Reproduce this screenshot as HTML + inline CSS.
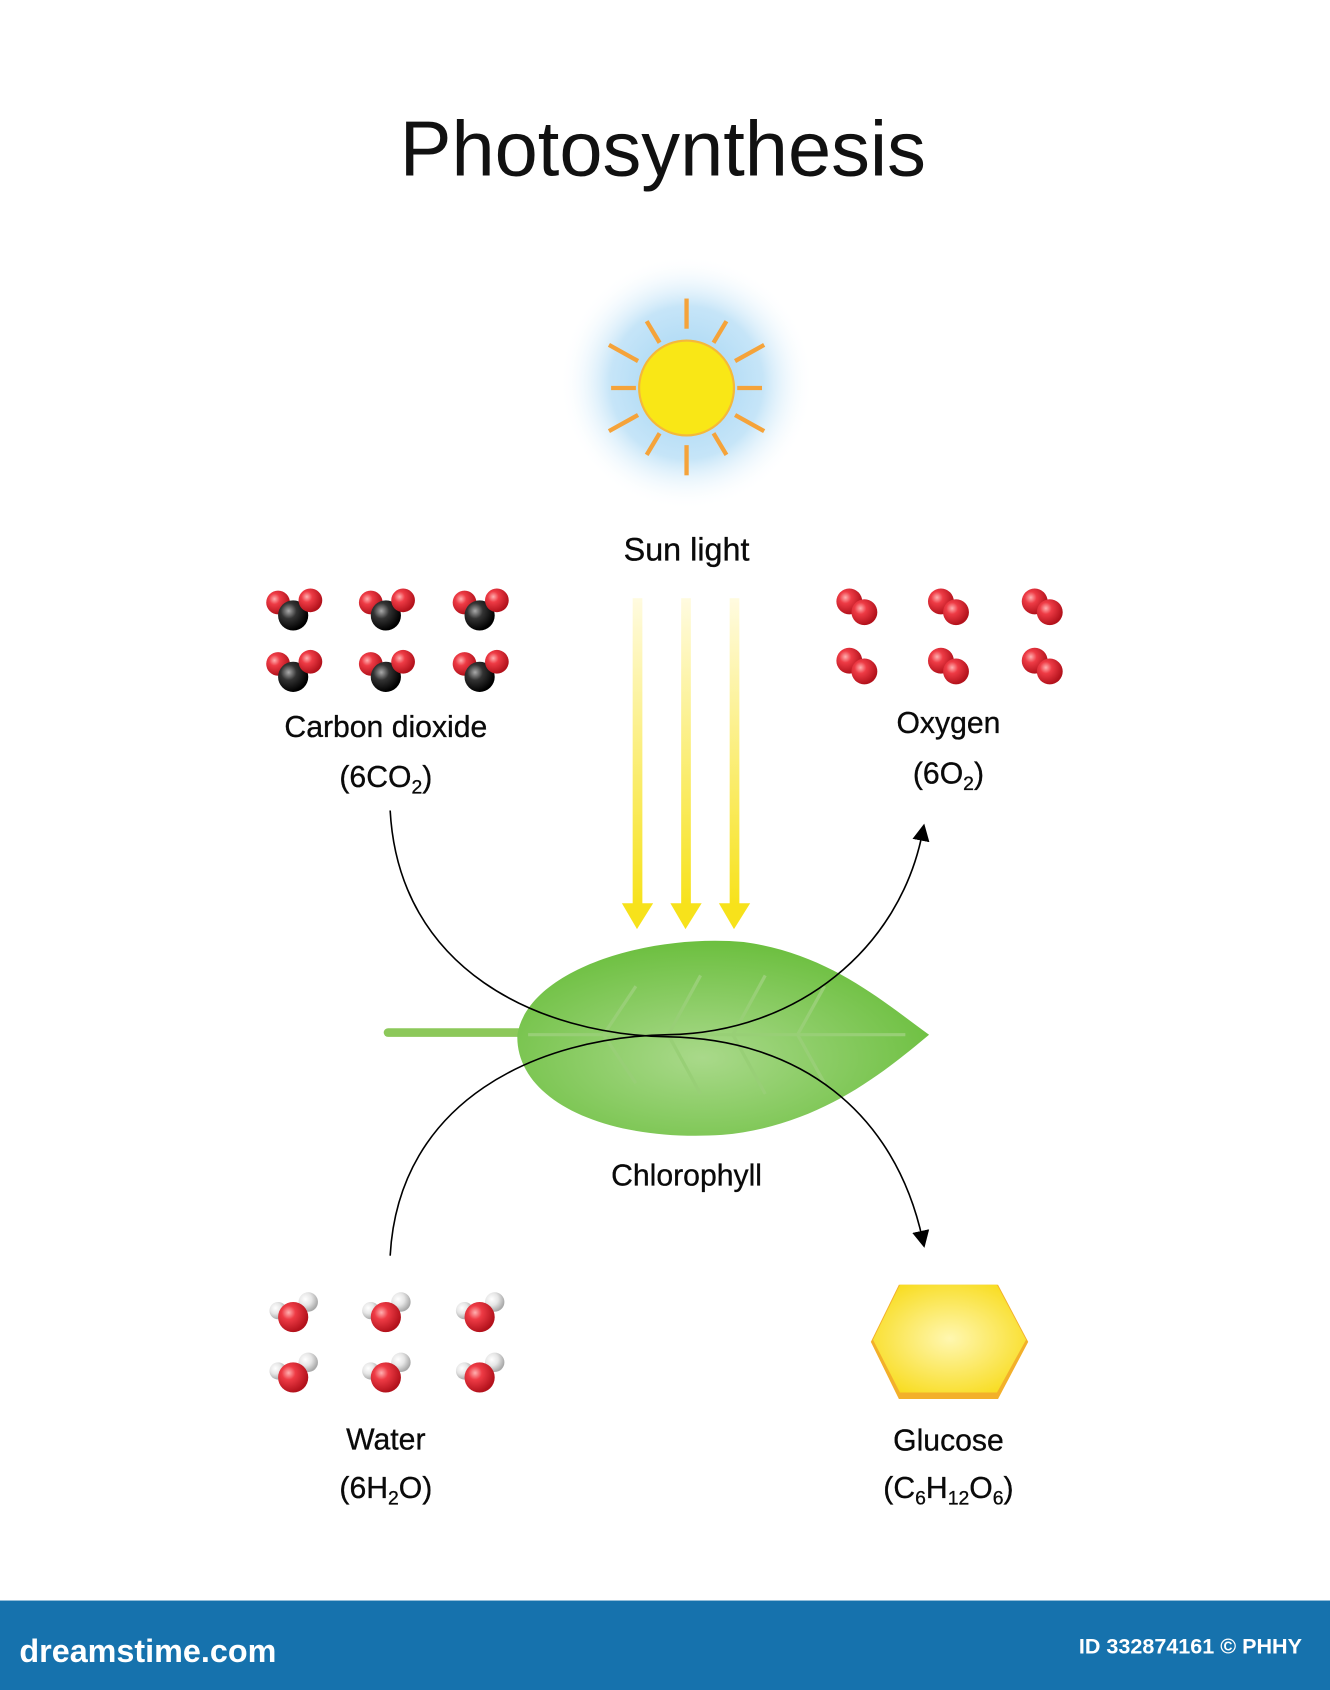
<!DOCTYPE html>
<html><head><meta charset="utf-8"><style>
html,body{margin:0;padding:0;background:#fff}
svg{display:block}
text{font-family:"Liberation Sans","DejaVu Sans",sans-serif;fill:#111}
.lb{font-weight:500;fill:#0a0a0a;stroke:#0a0a0a;stroke-width:0.3}
</style></head><body>
<svg width="1330" height="1690" viewBox="0 0 1234 1568" preserveAspectRatio="none" xmlns="http://www.w3.org/2000/svg">
<defs>
<radialGradient id="glow" cx="50%" cy="50%" r="50%">
<stop offset="0" stop-color="#9fd3f3"/><stop offset="0.6" stop-color="#c6e5f8"/><stop offset="1" stop-color="#ffffff" stop-opacity="0"/>
</radialGradient>
<radialGradient id="red" cx="35%" cy="35%" r="65%"><stop offset="0" stop-color="#ffb0b0"/><stop offset="0.35" stop-color="#ee3b45"/><stop offset="1" stop-color="#b3121c"/></radialGradient>
<radialGradient id="blk" cx="35%" cy="35%" r="65%"><stop offset="0" stop-color="#aaa"/><stop offset="0.4" stop-color="#333"/><stop offset="1" stop-color="#000"/></radialGradient>
<radialGradient id="wht" cx="35%" cy="35%" r="65%"><stop offset="0" stop-color="#fff"/><stop offset="0.5" stop-color="#e6e6e6"/><stop offset="1" stop-color="#aaa"/></radialGradient>
<linearGradient id="beam" x1="0" y1="0" x2="0" y2="1"><stop offset="0" stop-color="#fffbe0"/><stop offset="1" stop-color="#f7e21b"/></linearGradient>
<radialGradient id="leafg" cx="45%" cy="60%" r="60%"><stop offset="0" stop-color="#a9d98a"/><stop offset="1" stop-color="#6cbf3f"/></radialGradient>
<radialGradient id="hexg" cx="50%" cy="50%" r="60%"><stop offset="0" stop-color="#fff7b0"/><stop offset="1" stop-color="#f8dc1e"/></radialGradient>
<marker id="ah" markerWidth="16" markerHeight="16" refX="8" refY="8" orient="auto" markerUnits="userSpaceOnUse" viewBox="0 0 16 16">
<path d="M0,0 L16,8 L0,16 Z" fill="#000"/></marker>
<g id="co2"><circle cx="-14" cy="-6" r="11" fill="url(#red)"/><circle cx="0" cy="6" r="14" fill="url(#blk)"/><circle cx="16" cy="-8" r="11" fill="url(#red)"/></g>
<g id="o2"><circle cx="-7" cy="-5" r="12" fill="url(#red)"/><circle cx="7" cy="5" r="12" fill="url(#red)"/></g>
<g id="h2o"><circle cx="-14" cy="-2" r="8" fill="url(#wht)"/><circle cx="14" cy="-10" r="9" fill="url(#wht)"/><circle cx="0" cy="4" r="14" fill="url(#red)"/></g>
</defs>
<rect width="1234" height="1568" fill="#fff"/>
<text x="615" y="163" font-size="72" text-anchor="middle">Photosynthesis</text>
<circle cx="637" cy="355" r="118" fill="url(#glow)"/>
<g stroke="#f5a33a" stroke-width="4" stroke-linecap="butt">
<line x1="637" y1="277" x2="637" y2="305"/><line x1="637" y1="413" x2="637" y2="441"/>
<line x1="567" y1="360" x2="590" y2="360"/><line x1="684" y1="360" x2="707" y2="360"/>
<line x1="565" y1="320" x2="592" y2="335"/><line x1="682" y1="385" x2="709" y2="400"/>
<line x1="565" y1="400" x2="592" y2="385"/><line x1="682" y1="335" x2="709" y2="320"/>
<line x1="600" y1="298" x2="612" y2="318"/><line x1="662" y1="402" x2="674" y2="422"/>
<line x1="600" y1="422" x2="612" y2="402"/><line x1="662" y1="318" x2="674" y2="298"/>
</g>
<circle cx="637" cy="360" r="44" fill="#f9e716" stroke="#f5b83a" stroke-width="2"/>
<text class="lb" x="637" y="520" font-size="30" text-anchor="middle">Sun light</text>
<g fill="url(#beam)">
<rect x="587" y="555" width="9" height="285"/><rect x="632" y="555" width="9" height="285"/><rect x="677" y="555" width="9" height="285"/>
</g>
<g fill="#f7e21b">
<path d="M577,838 L606,838 L591,862 Z"/><path d="M622,838 L651,838 L636,862 Z"/><path d="M667,838 L696,838 L681,862 Z"/>
</g>
<use href="#co2" x="272" y="565"/><use href="#co2" x="358" y="565"/><use href="#co2" x="445" y="565"/>
<use href="#co2" x="272" y="622"/><use href="#co2" x="358" y="622"/><use href="#co2" x="445" y="622"/>
<text class="lb" x="358" y="684" font-size="28" text-anchor="middle">Carbon dioxide</text>
<text class="lb" x="358" y="730" font-size="28" text-anchor="middle">(6CO<tspan font-size="18" dy="6">2</tspan><tspan dy="-6">)</tspan></text>
<use href="#o2" x="795" y="563"/><use href="#o2" x="880" y="563"/><use href="#o2" x="967" y="563"/>
<use href="#o2" x="795" y="618"/><use href="#o2" x="880" y="618"/><use href="#o2" x="967" y="618"/>
<text class="lb" x="880" y="680" font-size="28" text-anchor="middle">Oxygen</text>
<text class="lb" x="880" y="727" font-size="28" text-anchor="middle">(6O<tspan font-size="18" dy="6">2</tspan><tspan dy="-6">)</tspan></text>
<line x1="360" y1="958" x2="500" y2="958" stroke="#8cc85a" stroke-width="8" stroke-linecap="round"/>
<path d="M480,960 C490,900 600,866 690,874 C770,885 820,930 862,960 C820,995 760,1045 670,1053 C560,1060 478,1020 480,960 Z" fill="url(#leafg)"/>
<g stroke="#98cf76" stroke-width="3" fill="none">
<line x1="490" y1="960" x2="840" y2="960"/>
<path d="M560,960 L590,915 M620,960 L650,905 M680,960 L710,905 M740,960 L765,915 M560,960 L590,1005 M620,960 L650,1015 M680,960 L710,1015 M740,960 L765,1005"/>
</g>
<path d="M362,752 C370,900 500,960 620,962 C740,964 830,1030 856,1150" fill="none" stroke="#000" stroke-width="1.5" marker-end="url(#ah)"/>
<path d="M362,1165 C370,1020 500,962 620,960 C740,958 835,880 856,772" fill="none" stroke="#000" stroke-width="1.5" marker-end="url(#ah)"/>
<text class="lb" x="637" y="1100" font-size="28" text-anchor="middle">Chlorophyll</text>
<use href="#h2o" x="272" y="1218"/><use href="#h2o" x="358" y="1218"/><use href="#h2o" x="445" y="1218"/>
<use href="#h2o" x="272" y="1274"/><use href="#h2o" x="358" y="1274"/><use href="#h2o" x="445" y="1274"/>
<text class="lb" x="358" y="1345" font-size="28" text-anchor="middle">Water</text>
<text class="lb" x="358" y="1390" font-size="28" text-anchor="middle">(6H<tspan font-size="18" dy="6">2</tspan><tspan dy="-6">O)</tspan></text>
<polygon points="808,1245 834,1192 926,1192 954,1245 926,1298 834,1298" fill="#f3b02a"/>
<polygon points="810,1243 835,1192 925,1192 952,1243 925,1292 835,1292" fill="url(#hexg)"/>
<text class="lb" x="880" y="1346" font-size="28" text-anchor="middle">Glucose</text>
<text class="lb" x="880" y="1390" font-size="28" text-anchor="middle">(C<tspan font-size="18" dy="6">6</tspan><tspan dy="-6">H</tspan><tspan font-size="18" dy="6">12</tspan><tspan dy="-6">O</tspan><tspan font-size="18" dy="6">6</tspan><tspan dy="-6">)</tspan></text>
<rect x="0" y="1485" width="1234" height="83" fill="#1672ad"/>
<text x="18" y="1542" font-size="30" font-weight="bold" style="fill:#fff">dreamstime.com</text>
<text x="1208" y="1534" font-size="20" font-weight="bold" text-anchor="end" style="fill:#fff">ID 332874161 © PHHY</text>
</svg>
</body></html>
